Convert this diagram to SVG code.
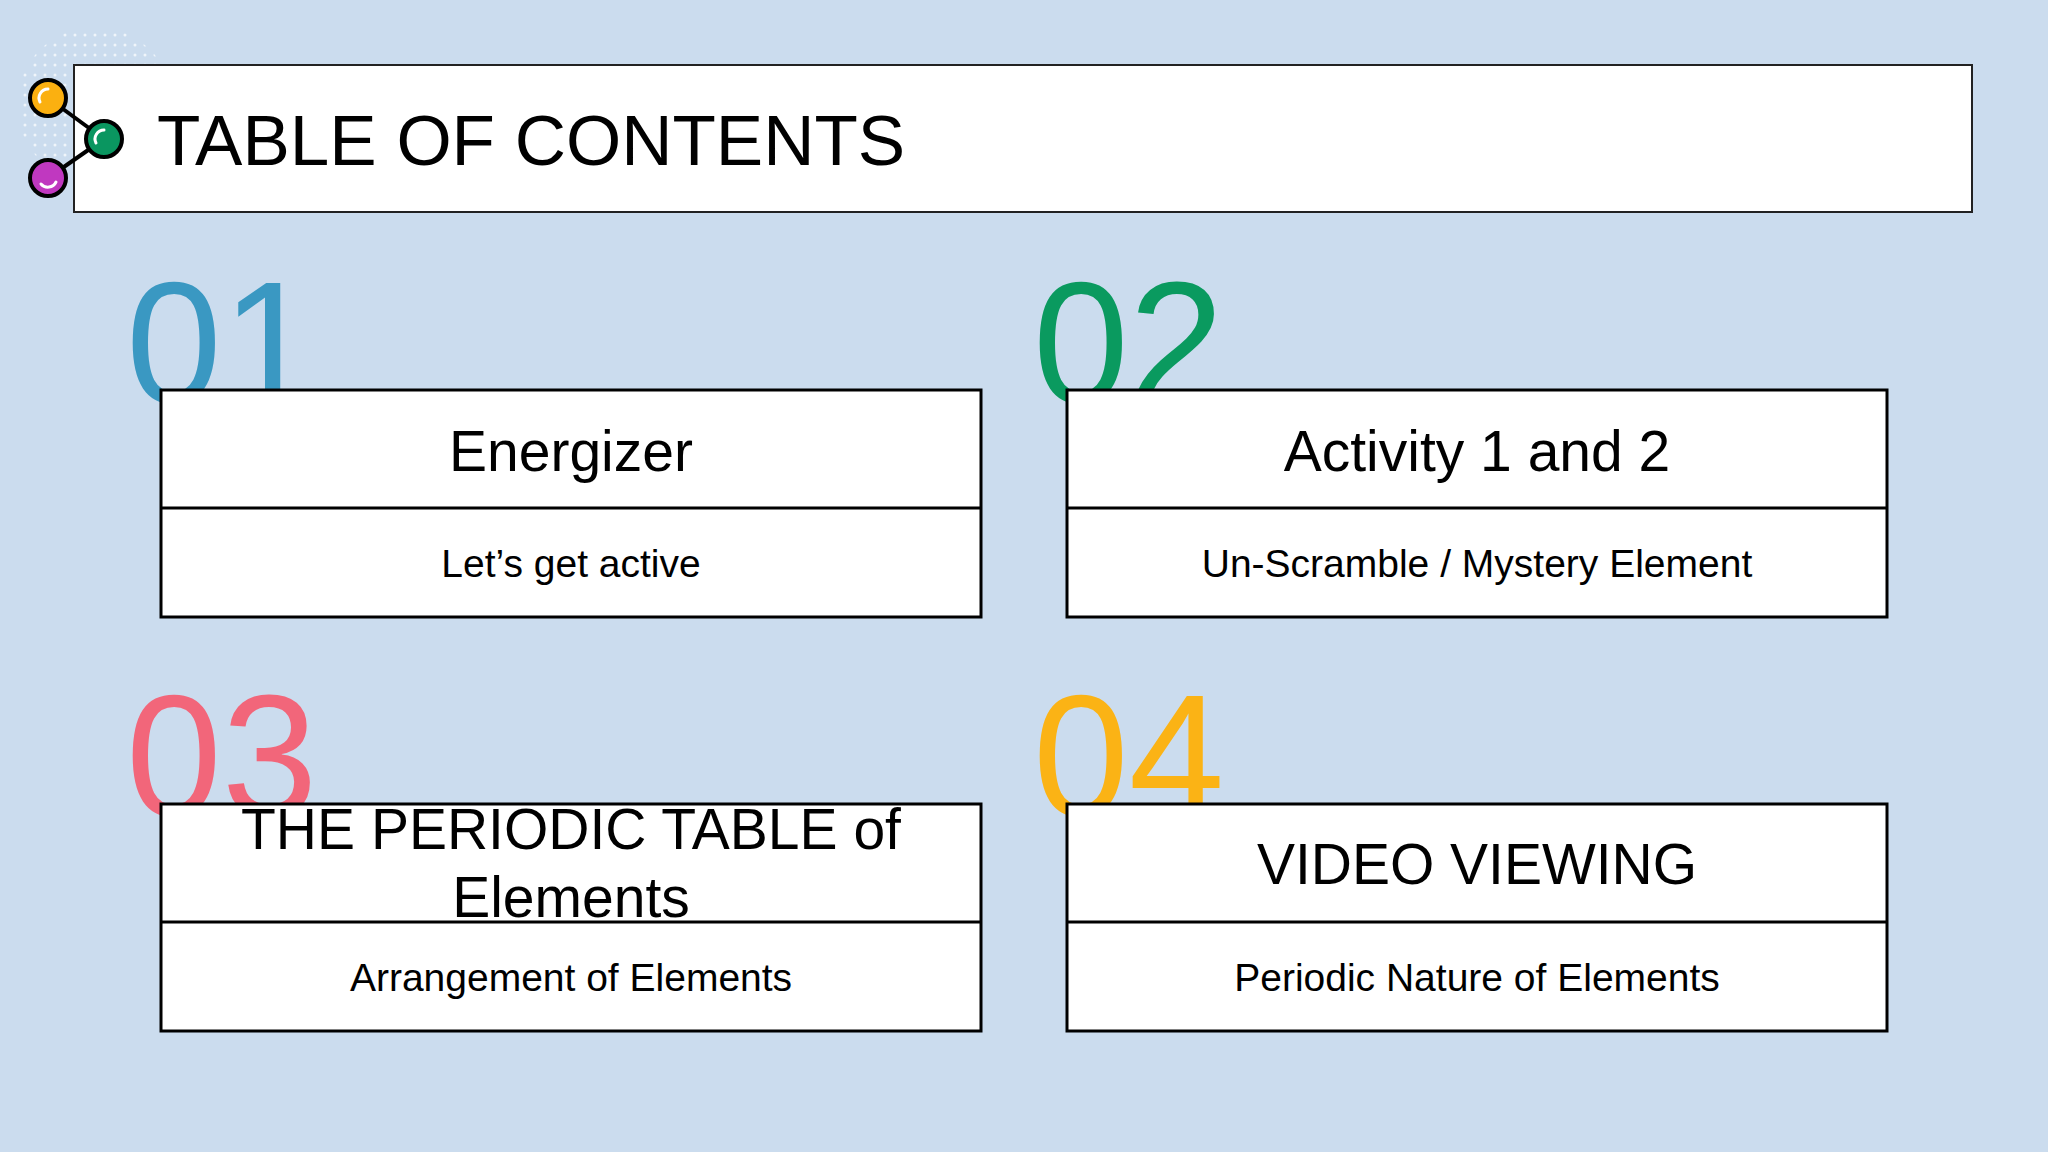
<svg xmlns="http://www.w3.org/2000/svg" width="2048" height="1152" viewBox="0 0 2048 1152">
<style>
.t{font-family:"Liberation Sans",Arial,sans-serif;fill:#000;text-anchor:middle}
.h{font-size:57px}.s{font-size:39px}
.n{font-family:"Liberation Sans",Arial,sans-serif;font-size:172px}
.b{fill:#fff;stroke:#000;stroke-width:3}
.ball{stroke:#000;stroke-width:4}
.hl{fill:none;stroke:#fff;stroke-width:3;stroke-linecap:round}
</style>
<defs>
<pattern id="dots" width="10" height="10" patternUnits="userSpaceOnUse"><circle cx="5" cy="5" r="1.5" fill="#fff" opacity="0.7"/></pattern>
<clipPath id="dc"><circle cx="95" cy="105" r="78"/></clipPath>
</defs>
<rect width="2048" height="1152" fill="#cbdcee"/>
<rect x="0" y="0" width="200" height="200" fill="url(#dots)" clip-path="url(#dc)"/>
<g id="header">
<rect x="74" y="65" width="1898" height="147" fill="#fff" stroke="#222" stroke-width="2"/>
<text x="157" y="165" font-family="Liberation Sans,Arial,sans-serif" font-size="71">TABLE OF CONTENTS</text>
</g>
<g id="logo">
<line x1="48" y1="98" x2="104" y2="139" stroke="#000" stroke-width="4"/>
<line x1="48" y1="178" x2="104" y2="139" stroke="#000" stroke-width="4"/>
<circle class="ball" cx="48" cy="98" r="18" fill="#fbb010"/>
<circle class="ball" cx="104" cy="139" r="18" fill="#0a9660"/>
<circle class="ball" cx="48" cy="178" r="18" fill="#c038c0"/>
<path class="hl" d="M40 102 A9 9 0 0 1 48 89"/>
<path class="hl" d="M96 143 A9 9 0 0 1 104 130"/>
<path class="hl" d="M41 184 A9 9 0 0 0 56 182"/>
</g>
<g id="item1">
<text class="n" x="126" y="402" fill="#3a98c2">01</text>
<rect class="b" x="161" y="390" width="820" height="227"/>
<line x1="161" y1="508" x2="981" y2="508" stroke="#000" stroke-width="3"/>
<text class="t h" x="571" y="471">Energizer</text>
<text class="t s" x="571" y="577">Let’s get active</text>
</g>
<g id="item2">
<text class="n" x="1033" y="402" fill="#0a9a5f">02</text>
<rect class="b" x="1067" y="390" width="820" height="227"/>
<line x1="1067" y1="508" x2="1887" y2="508" stroke="#000" stroke-width="3"/>
<text class="t h" x="1477" y="471">Activity 1 and 2</text>
<text class="t s" x="1477" y="577">Un-Scramble / Mystery Element</text>
</g>
<g id="item3">
<text class="n" x="126" y="815" fill="#f2667a">03</text>
<rect class="b" x="161" y="804" width="820" height="227"/>
<line x1="161" y1="922" x2="981" y2="922" stroke="#000" stroke-width="3"/>
<text class="t h" x="571" y="849">THE PERIODIC TABLE of</text>
<text class="t h" x="571" y="917">Elements</text>
<text class="t s" x="571" y="991">Arrangement of Elements</text>
</g>
<g id="item4">
<text class="n" x="1033" y="815" fill="#fbb315">04</text>
<rect class="b" x="1067" y="804" width="820" height="227"/>
<line x1="1067" y1="922" x2="1887" y2="922" stroke="#000" stroke-width="3"/>
<text class="t h" x="1477" y="884">VIDEO VIEWING</text>
<text class="t s" x="1477" y="991">Periodic Nature of Elements</text>
</g>
<g id="connectors"/>
</svg>
